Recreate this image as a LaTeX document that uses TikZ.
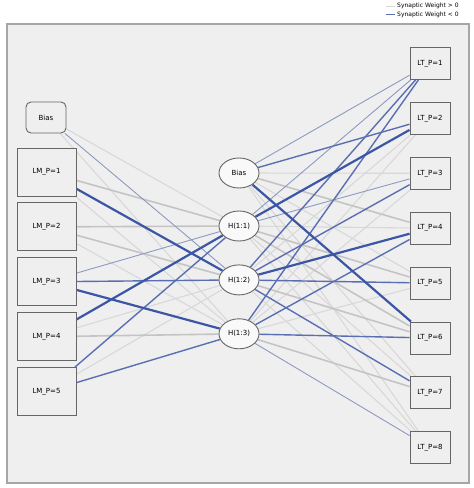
\documentclass[tikz,border=0pt]{standalone}
\usepackage{fontspec}
\setmainfont{DejaVu Sans}
\usetikzlibrary{positioning,backgrounds,shapes.geometric}
\definecolor{panelbg}{HTML}{EFEFEF}
\definecolor{framegray}{HTML}{A6A6A6}
\definecolor{boxline}{HTML}{666666}
\definecolor{poslight}{HTML}{D8D8D8}
\definecolor{posw}{HTML}{C4C4C4}
\definecolor{negthin}{HTML}{8C9AC2}
\definecolor{negw}{HTML}{5A6FB2}
\definecolor{negbold}{HTML}{3C56A6}
\tikzset{
  inbox/.style    = {rectangle, draw=boxline, fill=panelbg, line width=0.9pt, inner sep=0pt,
                     minimum width=59pt, minimum height=48pt, font=\fontsize{7}{8}\selectfont},
  biasbox/.style  = {rectangle, rounded corners=5pt, draw=boxline, fill=panelbg, line width=0.9pt,
                     inner sep=0pt, minimum width=40pt, minimum height=31pt, font=\fontsize{7}{8}\selectfont},
  hid/.style      = {ellipse, draw=boxline, fill=white!60!panelbg, line width=0.9pt, inner sep=0pt,
                     minimum width=40pt, minimum height=30pt, font=\fontsize{7}{8}\selectfont},
  outbox/.style   = {rectangle, draw=boxline, fill=panelbg, line width=0.9pt, inner sep=0pt,
                     minimum width=40pt, minimum height=32pt, font=\fontsize{7}{8}\selectfont},
  wposthin/.style = {draw=poslight, line width=1.1pt},
  wpos/.style     = {draw=posw, line width=1.6pt},
  wnegthin/.style = {draw=negthin, line width=0.9pt},
  wneg/.style     = {draw=negw, line width=1.4pt},
  wnegbold/.style = {draw=negbold, line width=2.2pt},
  key/.style      = {font=\fontsize{6}{7}\selectfont, anchor=west, inner sep=0pt},
}
\begin{document}
\begin{tikzpicture}[x=1pt, y=1pt]
  \useasboundingbox (0,0) rectangle (474,-488);
  \begin{pgfonlayer}{background}
    \draw[framegray, fill=panelbg, line width=1.2pt] (7,-24) rectangle (469,-483);
  \end{pgfonlayer}

  % legend
  \node[key] (kpos) at (397,-6) {Synaptic Weight > 0};
  \node[key] (kneg) at (397,-14.5) {Synaptic Weight < 0};
  \draw[draw=poslight, line width=1pt] ([xshift=-11pt]kpos.west) -- ([xshift=-2pt]kpos.west);
  \draw[draw=negw, line width=1pt] ([xshift=-11pt]kneg.west) -- ([xshift=-2pt]kneg.west);

  % input layer
  \node[biasbox] (bl) at (46,-117.5) {Bias};
  \node[inbox] (lm1) at (46.5,-172) {LM\_P=1};
  \node[inbox, below=6pt of lm1] (lm2) {LM\_P=2};
  \node[inbox, below=6pt of lm2] (lm3) {LM\_P=3};
  \node[inbox, below=6pt of lm3] (lm4) {LM\_P=4};
  \node[inbox, below=6pt of lm4] (lm5) {LM\_P=5};

  % hidden layer
  \node[hid] (hb) at (239,-173) {Bias};
  \node[hid] (h1) at (239,-226) {H(1:1)};
  \node[hid, below=23pt of h1] (h2) {H(1:2)};
  \node[hid, below=23pt of h2] (h3) {H(1:3)};

  % output layer
  \node[outbox] (o1) at (430,-63.5) {LT\_P=1};
  \node[outbox, below=22pt of o1] (o2) {LT\_P=2};
  \node[outbox, below=22pt of o2] (o3) {LT\_P=3};
  \node[outbox, below=22pt of o3] (o4) {LT\_P=4};
  \node[outbox, below=22pt of o4] (o5) {LT\_P=5};
  \node[outbox, below=22pt of o5] (o6) {LT\_P=6};
  \node[outbox, below=22pt of o6] (o7) {LT\_P=7};
  \node[outbox, below=22pt of o7] (o8) {LT\_P=8};

  \begin{pgfonlayer}{background}
    % input -> hidden, grey first
    \draw[wposthin] (bl) -- (h1);
    \draw[wposthin] (bl) -- (h3);
    \draw[wposthin] (lm1) -- (h3);
    \draw[wposthin] (lm2) -- (h3);
    \draw[wposthin] (lm4) -- (h2);
    \draw[wposthin] (lm5) -- (h2);
    \draw[wpos] (lm1) -- (h1);
    \draw[wpos] (lm2) -- (h1);
    \draw[wpos] (lm2) -- (h2);
    \draw[wpos] (lm4) -- (h3);
    \draw[wnegthin] (bl) -- (h2);
    \draw[wnegthin] (lm3) -- (h1);
    \draw[wneg] (lm3) -- (h2);
    \draw[wneg] (lm5) -- (h1);
    \draw[wneg] (lm5) -- (h3);
    \draw[wnegbold] (lm1) -- (h2);
    \draw[wnegbold] (lm3) -- (h3);
    \draw[wnegbold] (lm4) -- (h1);

    % hidden -> output, grey first
    \draw[wposthin] (hb) -- (o3);
    \draw[wposthin] (hb) -- (o5);
    \draw[wposthin] (hb) -- (o7);
    \draw[wposthin] (hb) -- (o8);
    \draw[wposthin] (h1) -- (o4);
    \draw[wposthin] (h1) -- (o7);
    \draw[wposthin] (h1) -- (o8);
    \draw[wposthin] (h2) -- (o2);
    \draw[wposthin] (h2) -- (o8);
    \draw[wposthin] (h3) -- (o2);
    \draw[wposthin] (h3) -- (o3);
    \draw[wposthin] (h3) -- (o5);
    \draw[wpos] (hb) -- (o4);
    \draw[wpos] (h1) -- (o5);
    \draw[wpos] (h1) -- (o6);
    \draw[wpos] (h2) -- (o6);
    \draw[wpos] (h3) -- (o7);
    \draw[wnegthin] (hb) -- (o1);
    \draw[wnegthin] (h1) -- (o1);
    \draw[wnegthin] (h1) -- (o3);
    \draw[wnegthin] (h3) -- (o8);
    \draw[wneg] (hb) -- (o2);
    \draw[wneg] (h2) -- (o1);
    \draw[wneg] (h2) -- (o3);
    \draw[wneg] (h2) -- (o5);
    \draw[wneg] (h2) -- (o7);
    \draw[wneg] (h3) -- (o1);
    \draw[wneg] (h3) -- (o4);
    \draw[wneg] (h3) -- (o6);
    \draw[wnegbold] (hb) -- (o6);
    \draw[wnegbold] (h1) -- (o2);
    \draw[wnegbold] (h2) -- (o4);
  \end{pgfonlayer}
\end{tikzpicture}
\end{document}
